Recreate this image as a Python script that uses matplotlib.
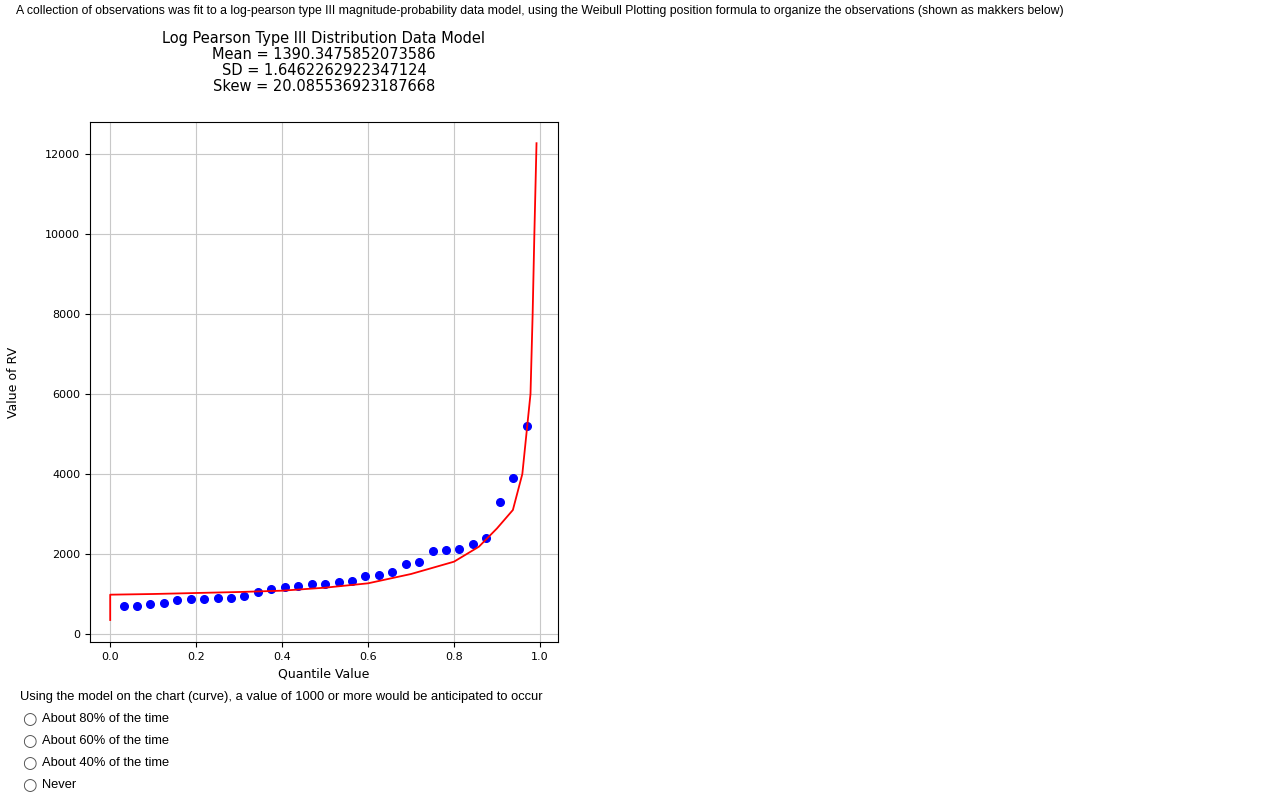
import numpy as np
import matplotlib
matplotlib.use("Agg")
from matplotlib import pyplot as plt

obs_values = [700, 700, 750, 783, 842, 875, 875, 908, 908, 942,
              1050, 1133, 1175, 1208, 1242, 1242, 1300, 1325, 1442, 1475,
              1558, 1742, 1800, 2067, 2092, 2125, 2250, 2408, 3300, 3900, 5200]
n = len(obs_values)
obs_quantiles = [(i + 1) / (n + 1) for i in range(n)]  # weibull plotting position

curve_q = [0.0, 0.0, 0.1, 0.2, 0.3, 0.4, 0.5, 0.6, 0.7, 0.8, 0.858, 0.9, 0.937,
           0.959, 0.978, 0.983, 0.987, 0.992]
curve_v = [350, 983, 1000, 1025, 1050, 1083, 1158, 1267, 1500, 1808, 2183, 2640,
           3100, 4000, 6000, 8000, 10000, 12270]

W, H = 1269, 797
fig = plt.figure(figsize=(W / 100, H / 100), dpi=100)
ax = fig.add_axes([90 / W, 1 - 642 / H, 468 / W, 520 / H])

ax.plot(obs_quantiles, obs_values, 'o', color='blue', markersize=5.5)
ax.plot(curve_q, curve_v, color='red', linewidth=1.3)
ax.set_xlim(-0.047, 1.042)
ax.set_ylim(-200, 12800)
ax.set_xticks([0.0, 0.2, 0.4, 0.6, 0.8, 1.0])
ax.set_yticks([0, 2000, 4000, 6000, 8000, 10000, 12000])
ax.grid(True, color='#c8c8c8')
ax.tick_params(labelsize=8)
ax.set_xlabel("Quantile Value", fontsize=9)
ax.set_ylabel("Value of RV", fontsize=9, labelpad=18)
ax.set_title("Log Pearson Type III Distribution Data Model\n"
             "Mean = 1390.3475852073586\nSD = 1.6462262922347124\n"
             "Skew = 20.085536923187668", fontsize=10.5, pad=22, linespacing=1.1)

fig.text(16 / W, 1 - 11 / H,
         "A collection of observations was fit to a log-pearson type III magnitude-probability data model, "
         "using the Weibull Plotting position formula to organize the observations (shown as makkers below)",
         fontsize=8.8, va='center', family='Liberation Sans')
fig.text(20 / W, 1 - 697 / H,
         "Using the model on the chart (curve), a value of 1000 or more would be anticipated to occur",
         fontsize=9.3, va='center', family='Liberation Sans')
options = ["About 80% of the time", "About 60% of the time", "About 40% of the time", "Never"]
for i, opt in enumerate(options):
    y = 1 - (719 + 22 * i) / H
    fig.text(22 / W, y, "\u25cb", fontsize=12, va='center', color='#555555')
    fig.text(42 / W, y, opt, fontsize=9.3, va='center', family='Liberation Sans')

fig.savefig("out.png", dpi=100)
